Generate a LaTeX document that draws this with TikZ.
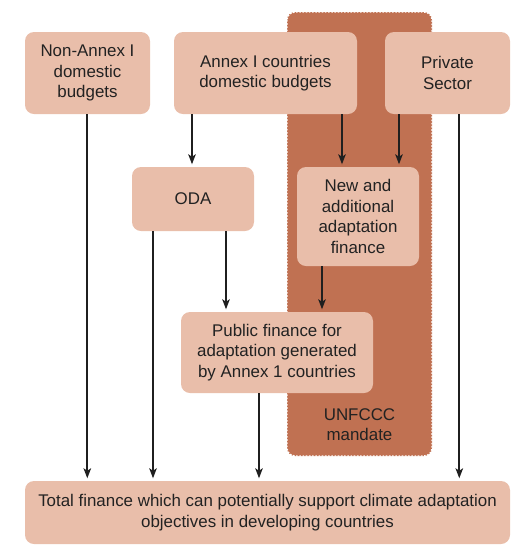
\documentclass[tikz,border=0pt]{standalone}
\usepackage{fontspec}
\setmainfont{Liberation Sans}
\usetikzlibrary{arrows.meta}
\definecolor{boxfill}{HTML}{E9BEAA}
\definecolor{mandfill}{HTML}{C07152}
\definecolor{txt}{HTML}{222222}
\definecolor{arr}{HTML}{1F1F1F}
\begin{document}
\begin{tikzpicture}[x=1pt,y=-1pt,
  fbox/.style={draw=none,fill=boxfill,rounded corners=9pt,align=center,text=txt,
    font=\fontsize{16.9}{20.5}\selectfont,inner sep=0pt},
  flow/.style={draw=arr,line width=1.8pt,-{Stealth[length=10pt,width=7.5pt,inset=2.5pt]},shorten >=2.5pt}]
\useasboundingbox (0,0) rectangle (529,558);
% UNFCCC mandate region
\fill[mandfill,rounded corners=8pt] (287,12) rectangle (432,456);
\draw[white,line width=1.4pt,dash pattern=on 1.6pt off 1.6pt,rounded corners=8pt] (287,12) rectangle (432,456);
\node[text=txt,align=center,font=\fontsize{16.9}{20.5}\selectfont] (mandate) at (359.5,424.5) {UNFCCC\\mandate};
% boxes
\node[fbox,minimum width=125pt,minimum height=82pt] (nonannex) at (87.5,73) {Non-Annex I\\domestic\\budgets};
\node[fbox,minimum width=183pt,minimum height=82pt] (annex) at (265.5,73) {Annex I countries\\domestic budgets};
\node[fbox,minimum width=125pt,minimum height=82pt] (private) at (447.5,73) {Private\\Sector};
\node[fbox,minimum width=122pt,minimum height=64pt] (oda) at (193,199) {ODA};
\node[fbox,minimum width=122pt,minimum height=99pt] (newadd) at (358,216.5) {New and\\additional\\adaptation\\finance};
\node[fbox,minimum width=192pt,minimum height=81pt] (public) at (277,352.5) {Public finance for\\adaptation generated\\by Annex 1 countries};
\node[fbox,minimum width=485pt,minimum height=63pt] (total) at (267.5,512.5) {Total finance which can potentially support climate adaptation\\objectives in developing countries};
% connectors
\draw[flow] (nonannex.south -| 87.3,0) -- (total.north -| 87.3,0);
\draw[flow] (annex.south -| 192,0) -- (oda.north -| 192,0);
\draw[flow] (annex.south -| 342,0) -- (newadd.north -| 342,0);
\draw[flow] (private.south -| 399,0) -- (newadd.north -| 399,0);
\draw[flow] (private.south -| 459.3,0) -- (total.north -| 459.3,0);
\draw[flow] (oda.south -| 153,0) -- (total.north -| 153,0);
\draw[flow] (oda.south -| 226,0) -- (public.north -| 226,0);
\draw[flow] (newadd.south -| 322,0) -- (public.north -| 322,0);
\draw[flow] (public.south -| 259,0) -- (total.north -| 259,0);
\end{tikzpicture}
\end{document}
